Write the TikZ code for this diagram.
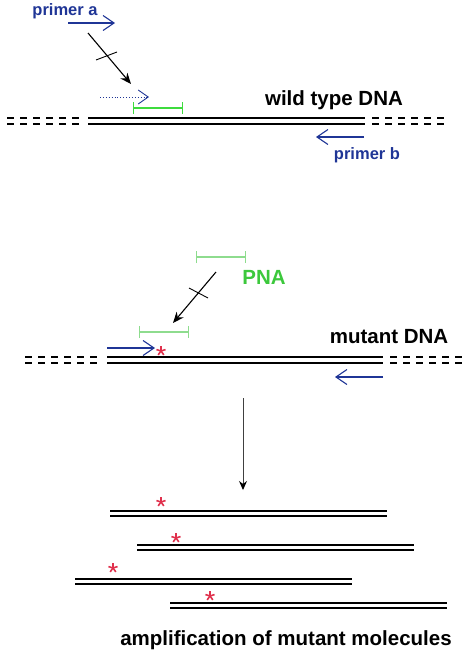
\documentclass[tikz,border=0pt]{standalone}
\usepackage{fontspec}
\setmainfont{Liberation Sans}
\usetikzlibrary{arrows.meta}
\definecolor{pblue}{HTML}{1F3596}
\definecolor{pgreen}{HTML}{3CC83C}
\definecolor{lgreen}{HTML}{8EDC8E}
\definecolor{bgreen}{HTML}{3EDB3E}
\definecolor{sred}{HTML}{E0304C}
\begin{document}
\begin{tikzpicture}[x=1pt,y=-1pt,
  strand/.style={line width=1.9pt,black},
  dstrand/.style={line width=1.9pt,black,dash pattern=on 7pt off 6pt},
  primer/.style={pblue,line width=1.1pt,-{Straight Barb[length=11pt,width=15pt,line width=1.1pt]}},
  blocked/.style={black,line width=1.1pt,-{Stealth[length=11pt,width=9pt]}},
  crossline/.style={black,line width=0.9pt},
  pnabar/.style={line width=1.3pt,{Bar[width=12pt]}-{Bar[width=12pt]}},
  lbl/.style={font=\bfseries\fontsize{20.5}{22}\selectfont,inner sep=0pt},
  plbl/.style={font=\bfseries\fontsize{16.5}{18}\selectfont,inner sep=0pt,text=pblue},
  star/.style={sred,line width=1.6pt}
]
\useasboundingbox (0,0) rectangle (474,656);
\newcommand{\mystar}[2]{%
  \foreach \ang in {90,162,234,306,18}{\draw[star] (#1,#2) -- ++(\ang:-4.8);}}

% ---------- wild type ----------
\node[plbl] (pa) at (65,11) {primer a};
\coordinate (pa1) at (68,23); \coordinate (pa2) at (115,23);
\draw[primer] (pa1) -- (pa2);
\coordinate (b1) at (88,33); \coordinate (b2) at (131,84);
\draw[blocked] (b1) -- (b2);
\coordinate (c1) at (96,60); \coordinate (c2) at (117,52);
\draw[crossline] (c1) -- (c2);
\coordinate (d1) at (100,97); \coordinate (d2) at (149,97);
\draw[pblue,line width=0.9pt,dotted,-{Straight Barb[length=10pt,width=14pt,line width=0.9pt]}] (d1) -- (d2);
\coordinate (g1) at (133,108); \coordinate (g2) at (183,108);
\draw[pnabar,bgreen] (g1) -- (g2);

\coordinate (w0) at (7,118); \coordinate (w1) at (82,118);
\coordinate (w2) at (88,118); \coordinate (w3) at (365,118);
\coordinate (w4) at (372,118); \coordinate (w5) at (447,118);
\coordinate (v0) at (7,124); \coordinate (v1) at (82,124);
\coordinate (v2) at (88,124); \coordinate (v3) at (365,124);
\coordinate (v4) at (372,124); \coordinate (v5) at (447,124);
\draw[dstrand] (w0) -- (w1); \draw[dstrand] (v0) -- (v1);
\draw[strand] (w2) -- (w3); \draw[strand] (v2) -- (v3);
\draw[dstrand] (w4) -- (w5); \draw[dstrand] (v4) -- (v5);
\node[lbl] (wt) at (334,100) {wild type DNA};
\coordinate (pb1) at (364,137); \coordinate (pb2) at (316,137);
\draw[primer] (pb1) -- (pb2);
\node[plbl] (pb) at (367,155) {primer b};

% ---------- mutant ----------
\coordinate (n1) at (196,257); \coordinate (n2) at (246,257);
\draw[pnabar,lgreen] (n1) -- (n2);
\node[lbl,text=pgreen] (pna) at (264,277) {PNA};
\coordinate (e1) at (216,272); \coordinate (e2) at (173,323);
\draw[blocked] (e1) -- (e2);
\coordinate (f1) at (189,288); \coordinate (f2) at (208,298);
\draw[crossline] (f1) -- (f2);
\coordinate (h1) at (139,332); \coordinate (h2) at (189,332);
\draw[pnabar,lgreen] (h1) -- (h2);
\coordinate (ma1) at (107,348); \coordinate (ma2) at (155,348);
\draw[primer] (ma1) -- (ma2);
\mystar{161}{351}

\coordinate (m0) at (25,357); \coordinate (m1) at (102,357);
\coordinate (m2) at (107,357); \coordinate (m3) at (383,357);
\coordinate (m4) at (390,357); \coordinate (m5) at (465,357);
\coordinate (u0) at (25,363); \coordinate (u1) at (102,363);
\coordinate (u2) at (107,363); \coordinate (u3) at (383,363);
\coordinate (u4) at (390,363); \coordinate (u5) at (465,363);
\draw[dstrand] (m0) -- (m1); \draw[dstrand] (u0) -- (u1);
\draw[strand] (m2) -- (m3); \draw[strand] (u2) -- (u3);
\draw[dstrand] (m4) -- (m5); \draw[dstrand] (u4) -- (u5);
\node[lbl] (mt) at (389,337) {mutant DNA};
\coordinate (mb1) at (383,377); \coordinate (mb2) at (335,377);
\draw[primer] (mb1) -- (mb2);

% ---------- amplification ----------
\coordinate (a1) at (243,398); \coordinate (a2) at (243,490);
\draw[black!75,line width=1pt,-{Stealth[length=9pt,width=8pt,black]}] (a1) -- (a2);

\foreach \xa/\xb/\ya/\yb/\sx/\sy in {110/387/511/516/161/502, 137/414/545/550/176/538, 75/352/579/584/113/568, 170/447/603/608/210/596}{
  \draw[line width=1.8pt] (\xa,\ya) -- (\xb,\ya);
  \draw[line width=1.8pt] (\xa,\yb) -- (\xb,\yb);
  \mystar{\sx}{\sy}
}
\node[lbl] (amp) at (286,640) {amplification of mutant molecules};
\end{tikzpicture}
\end{document}
